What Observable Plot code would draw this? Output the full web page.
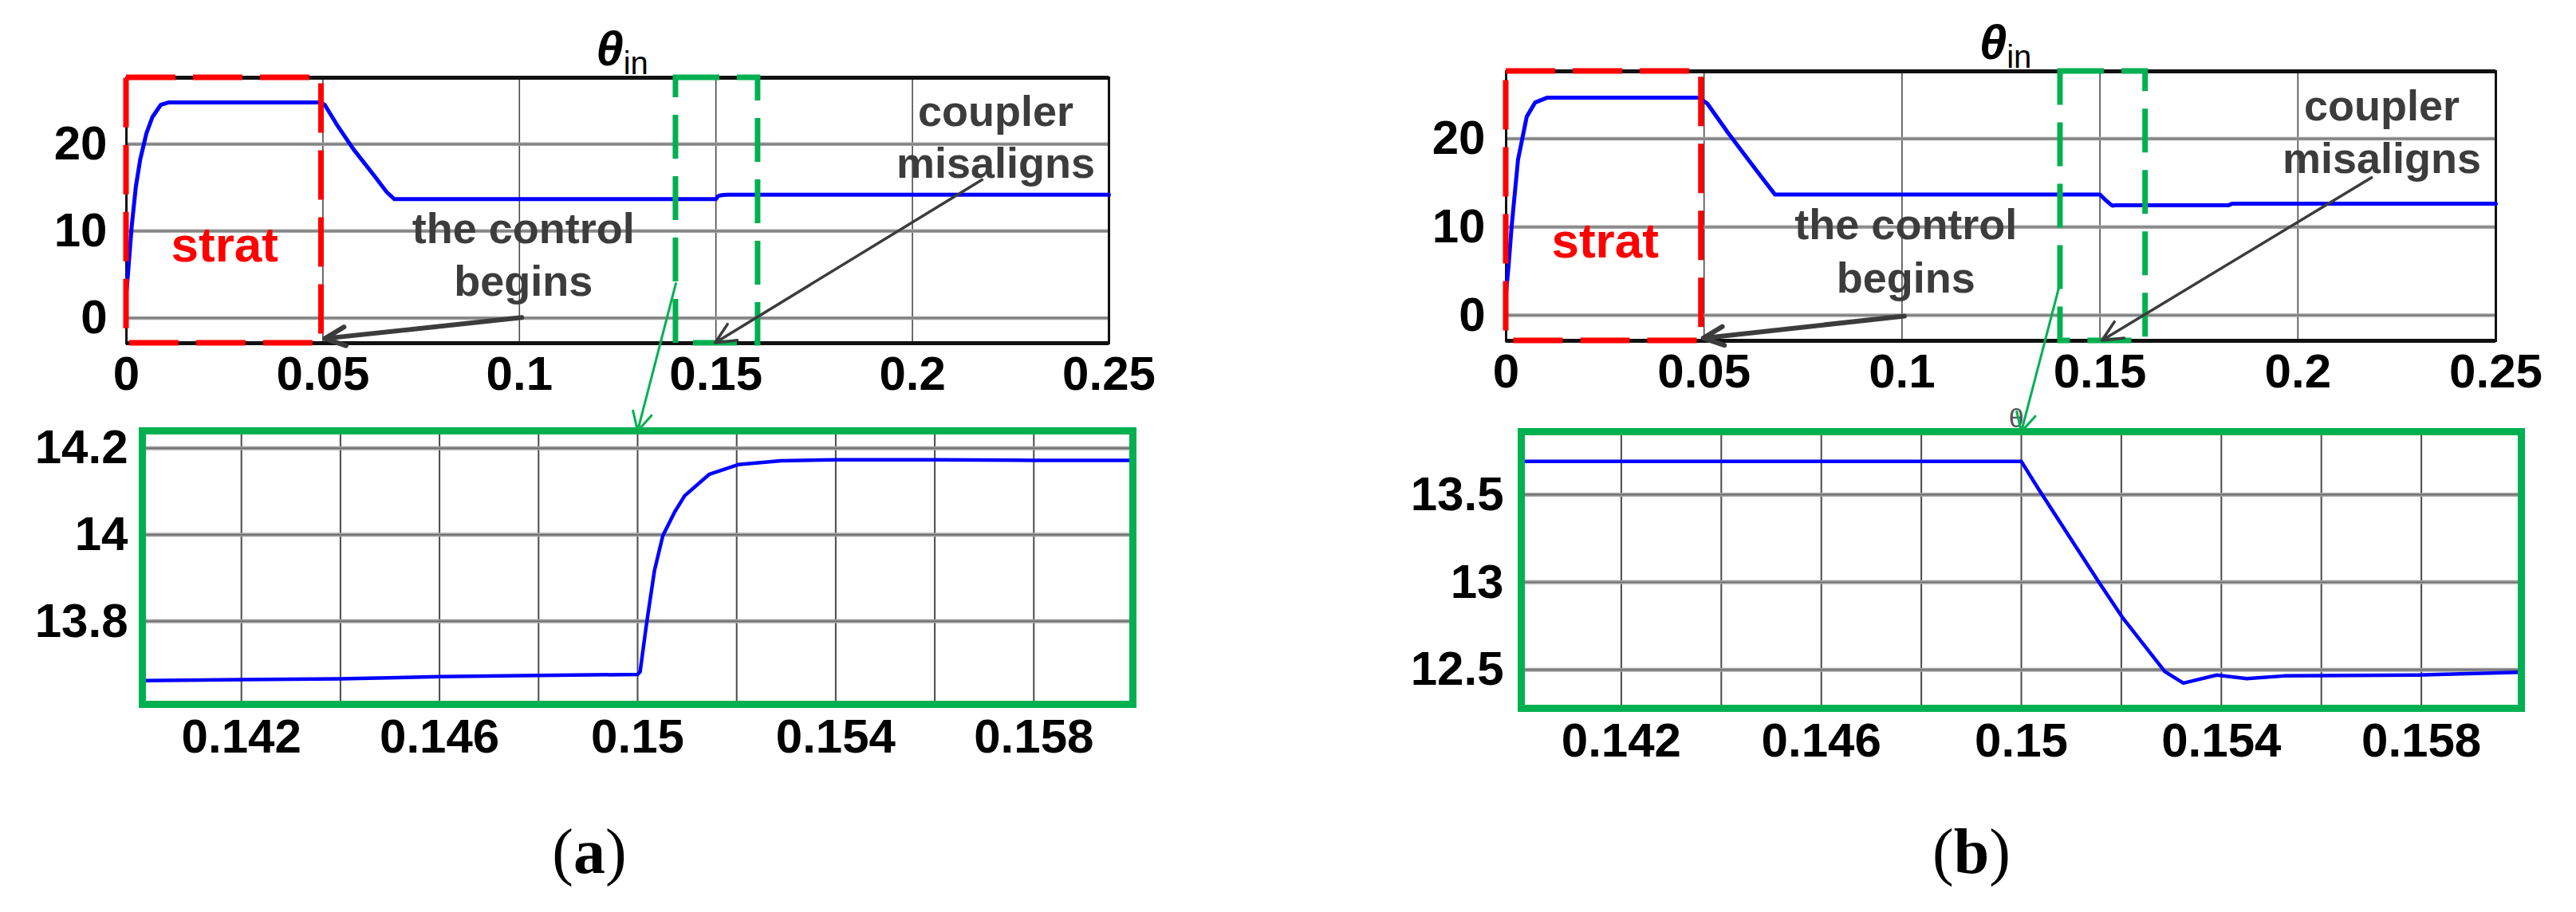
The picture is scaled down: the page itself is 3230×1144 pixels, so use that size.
<!DOCTYPE html>
<html>
<head>
<meta charset="utf-8">
<script src="https://cdn.jsdelivr.net/npm/d3@7"></script>
<script src="https://cdn.jsdelivr.net/npm/@observablehq/plot@0.6"></script>
<style>
  body { margin: 0; background: #fff; }
  #fig { position: relative; width: 3230px; height: 1144px; overflow: hidden; background: #fff; }
  .panel { position: absolute; }
  .caption { position: absolute; transform: translate(-50%, -50%); font-family: "Liberation Serif", "DejaVu Serif", serif; font-size: 80px; line-height: 1; color: #000; white-space: nowrap; }
</style>
</head>
<body>
<div id="fig"></div>
<script>
// ---------------- data ----------------
// overview axes
const xTicksTop = [0, 0.05, 0.1, 0.15, 0.2, 0.25];
const xTickLabelsTop = ["0", "0.05", "0.1", "0.15", "0.2", "0.25"];
const yTicksTop = [0, 10, 20];
const yTickLabelsTop = ["0", "10", "20"];

// zoom axes
const xGridZoom = [0.142, 0.144, 0.146, 0.148, 0.15, 0.152, 0.154, 0.156, 0.158];
const xTicksZoom = [0.142, 0.146, 0.15, 0.154, 0.158];
const xTickLabelsZoom = ["0.142", "0.146", "0.15", "0.154", "0.158"];
const yTicksZoomA = [13.8, 14, 14.2];
const yTickLabelsZoomA = ["13.8", "14", "14.2"];
const yTicksZoomB = [12.5, 13, 13.5];
const yTickLabelsZoomB = ["12.5", "13", "13.5"];

// panel (a) overview: theta_in vs time
const tA = [0, 0.0003, 0.00135, 0.0024, 0.0035, 0.0051, 0.0066, 0.0087, 0.0108, 0.0494, 0.0505, 0.0536, 0.0578, 0.0630, 0.0662, 0.0682, 0.1000, 0.1480, 0.1500, 0.15018, 0.15034, 0.15051, 0.15095, 0.15203, 0.1530, 0.2000, 0.2500];
const thetaA = [3.0, 4.5, 10.55, 15.1, 18.2, 21.25, 23.1, 24.5, 24.8, 24.8, 24.5, 22.2, 19.4, 16.4, 14.5, 13.67, 13.67, 13.67, 13.68, 13.79, 13.92, 14.0, 14.09, 14.16, 14.17, 14.17, 14.17];

// panel (b) overview
const tB = [0, 0.0006, 0.0014, 0.0030, 0.0052, 0.0073, 0.0103, 0.0487, 0.0508, 0.0560, 0.0612, 0.0653, 0.0679, 0.1000, 0.1500, 0.15035, 0.15153, 0.15287, 0.15324, 0.15391, 0.15451, 0.1700, 0.1825, 0.1835, 0.2500];
const thetaB = [2.6, 5.5, 10.1, 17.6, 22.5, 24.1, 24.65, 24.65, 24.0, 20.7, 17.6, 15.2, 13.69, 13.69, 13.69, 13.53, 13.01, 12.49, 12.42, 12.47, 12.45, 12.47, 12.47, 12.65, 12.65];

// panel (a) zoom 0.14 - 0.16
const tZoomA = [0.140, 0.142, 0.144, 0.146, 0.148, 0.150, 0.15005, 0.15018, 0.15034, 0.15051, 0.15075, 0.15095, 0.15145, 0.15203, 0.15289, 0.154, 0.156, 0.158, 0.160];
const thetaZoomA = [13.663, 13.665, 13.667, 13.672, 13.675, 13.677, 13.683, 13.794, 13.917, 13.998, 14.053, 14.09, 14.14, 14.162, 14.171, 14.173, 14.173, 14.172, 14.172];

// panel (b) zoom 0.14 - 0.16
const tZoomB = [0.140, 0.142, 0.144, 0.146, 0.148, 0.150, 0.15035, 0.15153, 0.15202, 0.15287, 0.15324, 0.15391, 0.15451, 0.15525, 0.15793, 0.160];
const thetaZoomB = [13.69, 13.69, 13.69, 13.69, 13.69, 13.69, 13.53, 13.01, 12.80, 12.49, 12.424, 12.47, 12.45, 12.465, 12.47, 12.486];

// domains
const xDomainTop = [0, 0.25];
const yDomainTop = [-2.9, 27.64];
const xDomainZoom = [0.14, 0.16];
const yDomainZoomA = [13.608, 14.24];
const yDomainZoomB = [12.28, 13.86];

// highlighted windows
const startWindowA = [0, 0.0496];
const zoomWindowA = [0.1398, 0.1607];
const startWindowB = [0, 0.0493];
const zoomWindowB = [0.14, 0.1615];

// annotations (shared by both panels)
const noteLabels = ["the control", "begins", "coupler", "misaligns"];
const noteT = [0.101, 0.101, 0.2212, 0.2212];
const noteTheta = [10.15, 4.15, 23.65, 17.7];
const startLabel = "strat";
const startLabelT = 0.025;
const startLabelTheta = 8.35;

// annotation arrows [t1, theta1, t2, theta2]
const ctrlArrowA = [0.1006, 0.05, 0.0505, -2.36];
const cplArrowA = [0.2177, 15.9, 0.1498, -2.85];
const ctrlArrowB = [0.1006, -0.09, 0.0498, -2.6];
const cplArrowB = [0.2186, 15.6, 0.1505, -2.85];

// zoom connectors: from overview point to zoom point
const connA = {from: [0.1398, 3.97], to: [0.15, 14.24]};
const connB = {from: [0.14, 3.77], to: [0.15, 13.86]};

// ---------------- drawing ----------------
const FONT = '"Liberation Sans", Arial, "DejaVu Sans", sans-serif';
const BLUE = "#0000ff", RED = "#ff0000", GREEN = "#00b050", NOTE = "#3c3c3c";
const fig = document.getElementById("fig");

function fmt(ticks, labels) { return d => labels[ticks.findIndex(t => Math.abs(t - d) < 1e-9)]; }

function place(svg, left, top) {
  const div = document.createElement("div");
  div.className = "panel";
  div.style.left = left + "px";
  div.style.top = top + "px";
  div.appendChild(svg);
  fig.appendChild(div);
}

function arrowRow(a) { return {x1: a[0], y1: a[1], x2: a[2], y2: a[3]}; }

function makeTop(cfg) {
  const line = cfg.t.map((t, i) => ({t, v: cfg.theta[i]}));
  const notes = noteLabels.map((s, i) => ({label: s, t: noteT[i], v: noteTheta[i]}));
  const rects = [
    {x1: cfg.startWin[0], x2: cfg.startWin[1], y1: yDomainTop[0], y2: yDomainTop[1], c: "r"},
    {x1: cfg.zoomWin[0], x2: cfg.zoomWin[1], y1: yDomainTop[0], y2: yDomainTop[1], c: "g"}
  ];
  const p = Plot.plot({
    width: 1615, height: 500,
    marginLeft: cfg.m[0], marginRight: cfg.m[1], marginTop: cfg.m[2], marginBottom: cfg.m[3],
    style: {fontFamily: FONT, fontSize: "60px", fontWeight: "bold", background: "transparent", color: "#000", overflow: "visible", maxWidth: "none"},
    x: {domain: xDomainTop, ticks: xTicksTop, tickFormat: fmt(xTicksTop, xTickLabelsTop), tickSize: 0, tickPadding: 16, label: null},
    y: {domain: yDomainTop, ticks: yTicksTop, tickFormat: fmt(yTicksTop, yTickLabelsTop), tickSize: 0, tickPadding: cfg.yPad, label: null},
    marks: [
      Plot.ruleX(xTicksTop, {stroke: "#4a4a4a", strokeWidth: 1.6}),
      Plot.ruleY(yTicksTop, {stroke: "#a0a0a0", strokeWidth: 4.5}),
      Plot.ruleY(yTicksTop, {stroke: "#707070", strokeWidth: 1.2}),
      Plot.frame({stroke: "#111", strokeWidth: 3}),
      Plot.ruleY(yDomainTop, {stroke: "#111", strokeWidth: 5}),
      Plot.line(line, {x: "t", y: "v", stroke: BLUE, strokeWidth: 5}),
      Plot.rect(rects.filter(d => d.c === "r"), {x1: "x1", x2: "x2", y1: "y1", y2: "y2", fill: "none", stroke: RED, strokeWidth: 7, strokeDasharray: "62,22"}),
      Plot.rect(rects.filter(d => d.c === "g"), {x1: "x1", x2: "x2", y1: "y1", y2: "y2", fill: "none", stroke: GREEN, strokeWidth: 7, strokeDasharray: "55,22"}),
      Plot.text([{label: startLabel, t: startLabelT, v: startLabelTheta}], {x: "t", y: "v", text: "label", fill: RED, fontSize: 62, fontWeight: "bold", fontFamily: FONT}),
      Plot.text(notes, {x: "t", y: "v", text: "label", fill: NOTE, fontSize: 54, fontWeight: "bold", fontFamily: FONT}),
      Plot.arrow([arrowRow(cfg.ctrl)], {x1: "x1", y1: "y1", x2: "x2", y2: "y2", stroke: NOTE, strokeWidth: 6, headLength: 7, headAngle: 50}),
      Plot.arrow([arrowRow(cfg.cpl)], {x1: "x1", y1: "y1", x2: "x2", y2: "y2", stroke: NOTE, strokeWidth: 3.5, headLength: 12, headAngle: 50})
    ]
  });
  // title θ_in
  const cx = (cfg.m[0] + (1615 - cfg.m[1])) / 2 + 6;
  const title = d3.select(p).append("text")
    .attr("x", cx).attr("y", cfg.m[2] - 15)
    .attr("text-anchor", "middle")
    .attr("fill", "#000")
    .style("font-family", FONT);
  title.append("tspan").text("θ").style("font-size", "62px").style("font-weight", "bold").style("font-style", "italic");
  title.append("tspan").text("in").attr("dy", 11).style("font-size", "40px").style("font-weight", "normal");
  return p;
}

function makeZoom(cfg) {
  const line = cfg.t.map((t, i) => ({t, v: cfg.theta[i]}));
  const marks = [
    Plot.ruleX(xGridZoom, {stroke: "#4a4a4a", strokeWidth: 2}),
    Plot.ruleY(cfg.yTicks, {stroke: "#a0a0a0", strokeWidth: 5}),
    Plot.ruleY(cfg.yTicks, {stroke: "#6a6a6a", strokeWidth: 1.4}),
    Plot.line(line, {x: "t", y: "v", stroke: BLUE, strokeWidth: 4.5}),
    Plot.frame({stroke: GREEN, strokeWidth: 9})
  ];
  if (cfg.extra) marks.push(cfg.extra);
  return Plot.plot({
    width: 1615, height: 480,
    marginLeft: cfg.m[0], marginRight: cfg.m[1], marginTop: cfg.m[2], marginBottom: cfg.m[3],
    style: {fontFamily: FONT, fontSize: "60px", fontWeight: "bold", background: "transparent", color: "#000", overflow: "visible", maxWidth: "none"},
    x: {domain: xDomainZoom, ticks: xTicksZoom, tickFormat: fmt(xTicksZoom, xTickLabelsZoom), tickSize: 0, tickPadding: 18, label: null},
    y: {domain: cfg.yDomain, ticks: cfg.yTicks, tickFormat: fmt(cfg.yTicks, cfg.yLabels), tickSize: 0, tickPadding: cfg.yPad, label: null},
    marks
  });
}

const posTopA = {left: 0, top: 0}, posTopB = {left: 1615, top: 0};
const posZoomA = {left: 0, top: 480}, posZoomB = {left: 1615, top: 480};

const topA = makeTop({t: tA, theta: thetaA, m: [158, 225, 97, 70], yPad: 24, startWin: startWindowA, zoomWin: zoomWindowA, ctrl: ctrlArrowA, cpl: cplArrowA});
const topB = makeTop({t: tB, theta: thetaB, m: [273, 101, 89, 73], yPad: 26, startWin: startWindowB, zoomWin: zoomWindowB, ctrl: ctrlArrowB, cpl: cplArrowB});
const zoomA = makeZoom({t: tZoomA, theta: thetaZoomA, m: [178, 195, 60, 77], yDomain: yDomainZoomA, yTicks: yTicksZoomA, yLabels: yTickLabelsZoomA, yPad: 18});
const zoomB = makeZoom({t: tZoomB, theta: thetaZoomB, m: [292, 69, 61, 72], yDomain: yDomainZoomB, yTicks: yTicksZoomB, yLabels: yTickLabelsZoomB, yPad: 22,
  extra: Plot.text([{t: 0.1499, label: "θ"}], {x: "t", text: "label", frameAnchor: "top", dy: -30, fill: "#555", fontSize: 34, fontWeight: "normal", fontFamily: FONT})});

place(topA, posTopA.left, posTopA.top);
place(topB, posTopB.left, posTopB.top);
place(zoomA, posZoomA.left, posZoomA.top);
place(zoomB, posZoomB.left, posZoomB.top);

// connectors computed from the plots' own scales
function pt(plot, pos, d) {
  return [pos.left + plot.scale("x").apply(d[0]), pos.top + plot.scale("y").apply(d[1])];
}
const connectors = [
  [pt(topA, posTopA, connA.from), pt(zoomA, posZoomA, connA.to)],
  [pt(topB, posTopB, connB.from), pt(zoomB, posZoomB, connB.to)]
].map(([a, b]) => ({x1: a[0], y1: a[1], x2: b[0], y2: b[1]}));

const overlay = Plot.plot({
  width: 3230, height: 1144, margin: 0,
  style: {background: "transparent", maxWidth: "none", overflow: "visible"},
  x: {type: "identity", axis: null},
  y: {type: "identity", axis: null},
  marks: [
    Plot.arrow(connectors, {x1: "x1", y1: "y1", x2: "x2", y2: "y2", stroke: GREEN, strokeWidth: 3, headLength: 13, headAngle: 55})
  ]
});
overlay.style.pointerEvents = "none";
place(overlay, 0, 0);

// captions
function caption(letter, x, y) {
  const d = document.createElement("div");
  d.className = "caption";
  d.style.left = x + "px";
  d.style.top = y + "px";
  d.innerHTML = "(<b>" + letter + "</b>)";
  fig.appendChild(d);
}
caption("a", 739, 1068);
caption("b", 2472, 1068);
</script>
</body>
</html>
